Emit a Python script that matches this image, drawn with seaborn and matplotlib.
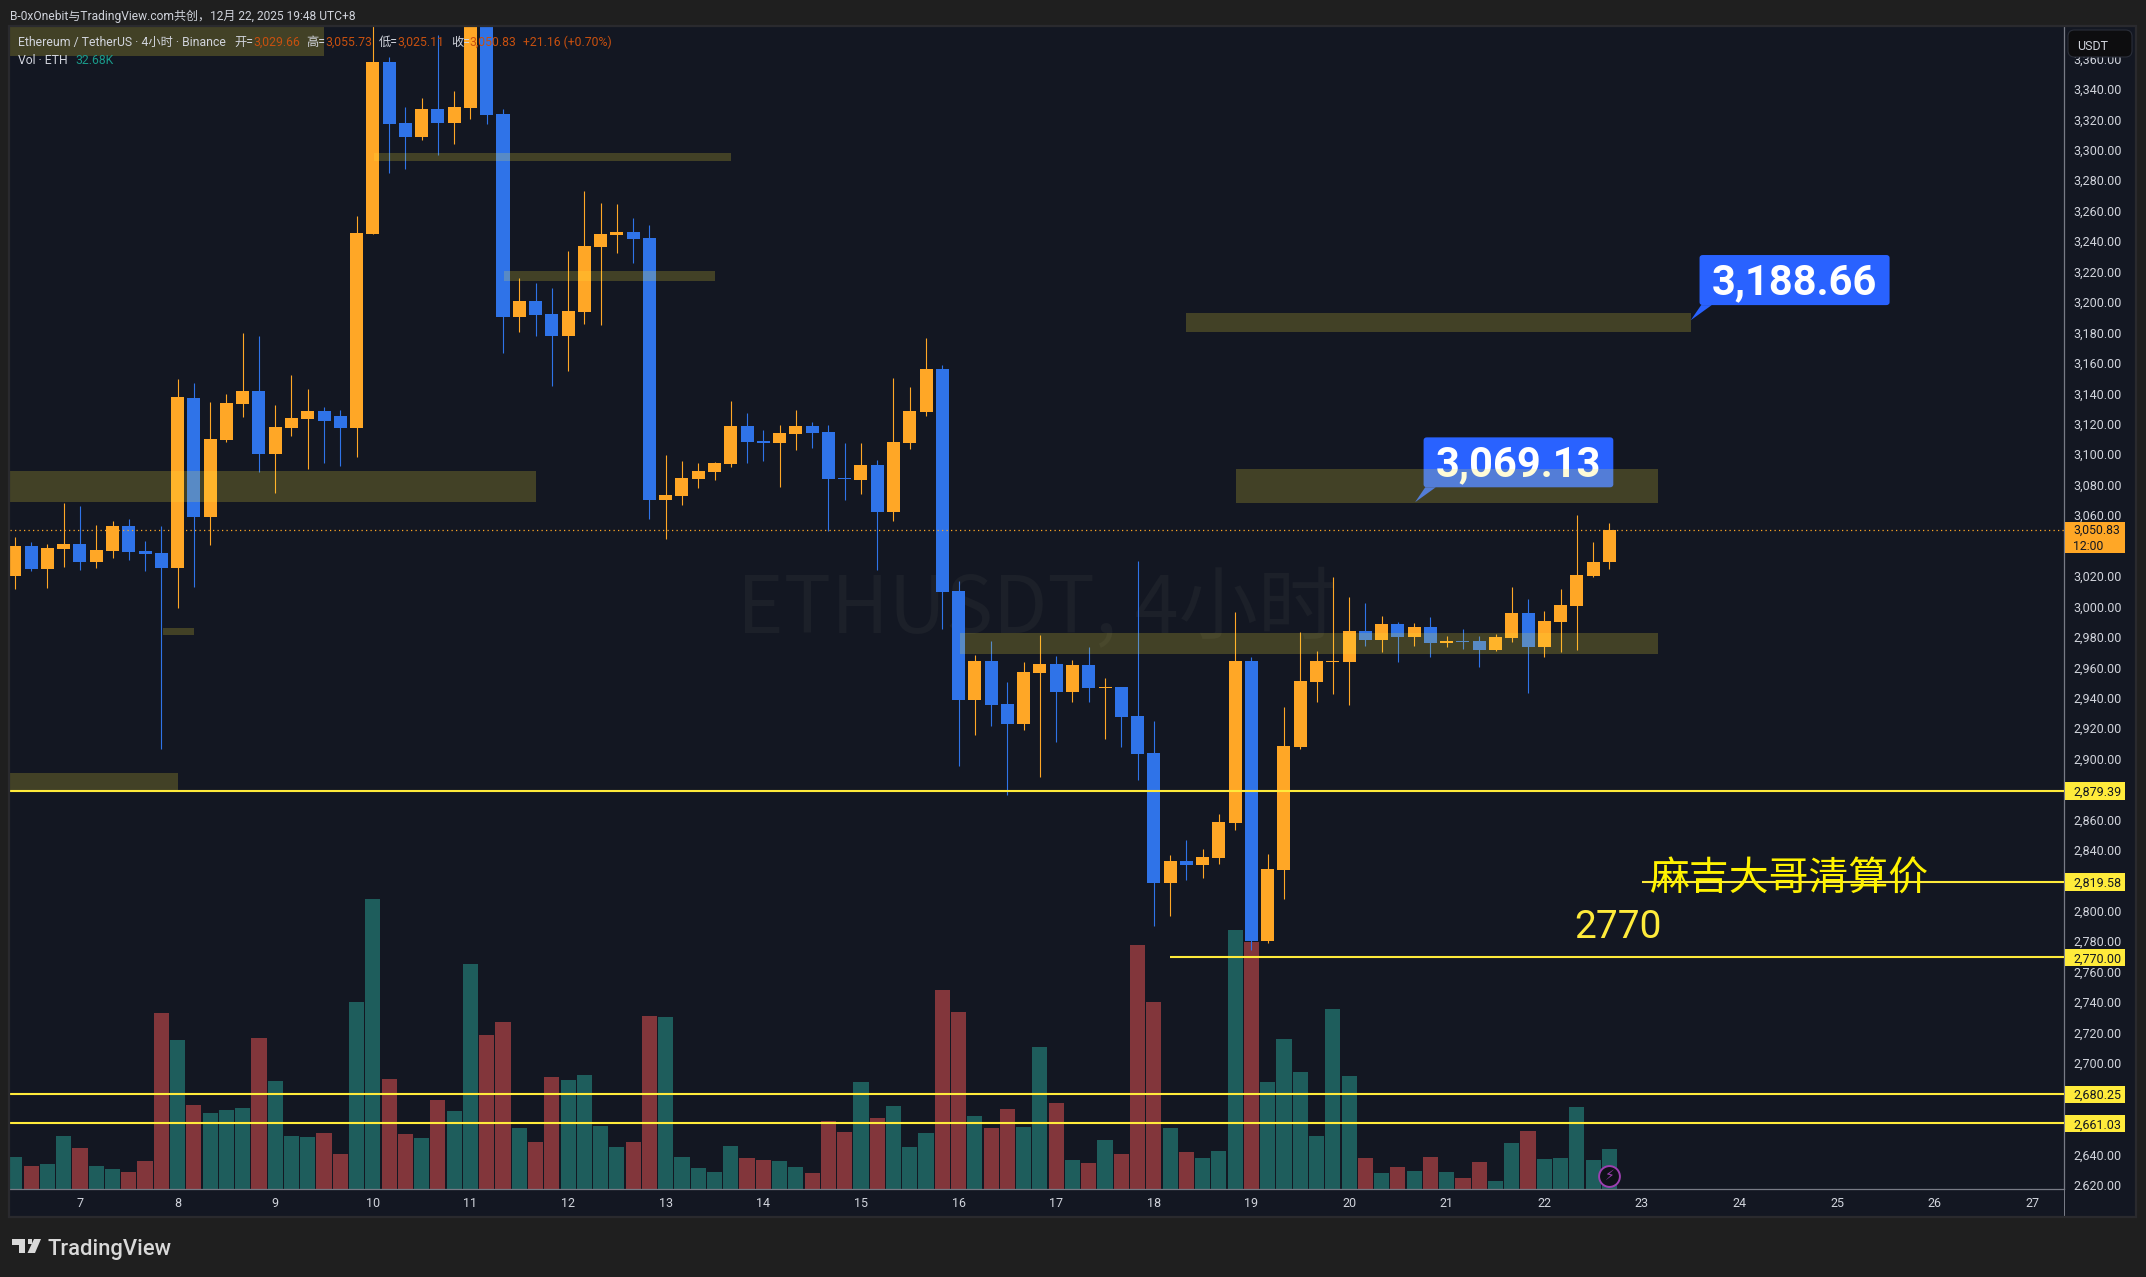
import matplotlib
matplotlib.use('Agg')
import matplotlib.pyplot as plt
from matplotlib.patches import Rectangle, Polygon, FancyBboxPatch
from matplotlib.transforms import blended_transform_factory, ScaledTranslation
import numpy as np
import pandas as pd
import seaborn as sns

# %% Datos (ETHUSDT, velas de 4 horas)
opens = [3020.6, 3040.3, 3025.2, 3038.3, 3041.6, 3029.8, 3037.0, 3053.5, 3037.0, 3035.7,
         3025.9, 3137.5, 3059.4, 3110.0, 3133.6, 3142.1, 3100.8, 3117.8, 3123.7, 3129.0,
         3126.0, 3117.8, 3245.3, 3358.3, 3318.2, 3309.0, 3327.4, 3318.2, 3328.0, 3392.0,
         3324.1, 3190.7, 3201.2, 3192.7, 3178.2, 3194.0, 3236.7, 3244.6, 3246.6, 3242.6,
         3070.5, 3073.2, 3084.3, 3088.9, 3094.1, 3119.1, 3109.2, 3107.9, 3113.8, 3119.1,
         3115.2, 3084.9, 3083.6, 3093.5, 3062.6, 3107.9, 3128.3, 3156.5, 3010.7, 2939.1,
         2964.7, 2936.5, 2923.3, 2956.8, 2962.7, 2944.3, 2962.0, 2947.0, 2947.6, 2928.6,
         2904.3, 2818.9, 2833.3, 2830.7, 2835.3, 2858.3, 2964.7, 2780.8, 2827.4, 2908.2,
         2951.0, 2964.0, 2964.0, 2984.4, 2978.6, 2989.1, 2980.5, 2987.1, 2976.6, 2977.9,
         2977.9, 2972.0, 2979.9, 2996.3, 2974.0, 2990.4, 3000.9, 3020.6, 3029.66]
highs = [3046.2, 3043.0, 3041.6, 3068.6, 3066.6, 3054.1, 3056.7, 3058.1, 3043.6, 3053.5,
         3150.0, 3147.4, 3134.9, 3140.1, 3180.2, 3178.2, 3132.9, 3152.6, 3143.4, 3131.6,
         3129.6, 3257.0, 3400.0, 3361.6, 3328.7, 3334.6, 3376.0, 3339.2, 3400.0, 3400.0,
         3327.4, 3216.4, 3213.1, 3209.8, 3234.1, 3273.5, 3265.6, 3265.0, 3255.8, 3251.2,
         3100.1, 3096.2, 3094.9, 3095.4, 3135.5, 3127.6, 3116.5, 3119.8, 3129.6, 3121.7,
         3119.8, 3107.9, 3107.9, 3096.8, 3150.6, 3144.7, 3176.9, 3159.2, 3017.3, 2968.6,
         2977.8, 2950.9, 2964.0, 2981.8, 2968.0, 2965.4, 2973.9, 2953.5, 2947.6, 3030.4,
         2925.3, 2837.3, 2847.1, 2841.2, 2864.2, 2996.9, 2967.3, 2837.9, 2934.5, 2983.8,
         2971.3, 3019.9, 3006.8, 3002.8, 2994.3, 2990.4, 2989.7, 2993.7, 2981.2, 2985.8,
         2981.2, 2982.5, 3013.4, 3005.5, 2997.6, 3012.1, 3060.7, 3043.0, 3055.73]
lows = [3012.1, 3023.9, 3012.7, 3026.5, 3024.6, 3025.9, 3032.4, 3031.1, 3023.9, 2906.9,
        2999.6, 3013.4, 3041.0, 3108.6, 3125.0, 3088.9, 3075.1, 3112.6, 3090.9, 3094.9,
        3092.9, 3098.8, 3245.0, 3285.3, 3288.0, 3307.0, 3297.2, 3304.4, 3320.8, 3317.5,
        3167.1, 3180.9, 3178.2, 3145.4, 3155.3, 3186.1, 3185.5, 3232.8, 3226.2, 3058.1,
        3044.9, 3067.3, 3078.4, 3083.6, 3092.2, 3094.8, 3096.1, 3079.0, 3103.3, 3104.6,
        3050.1, 3070.5, 3074.4, 3024.5, 3056.7, 3104.0, 3125.7, 2985.7, 2895.7, 2916.1,
        2922.0, 2876.8, 2919.4, 2888.5, 2911.5, 2937.8, 2937.8, 2913.5, 2908.2, 2886.6,
        2790.6, 2797.2, 2820.9, 2822.2, 2831.4, 2853.7, 2774.9, 2779.5, 2808.4, 2906.9,
        2937.8, 2943.0, 2935.8, 2974.6, 2970.7, 2964.1, 2974.6, 2967.4, 2974.0, 2972.7,
        2960.8, 2971.4, 2977.3, 2943.8, 2967.4, 2970.7, 2972.0, 3020.0, 3025.11]
closes = [3040.3, 3025.2, 3039.0, 3041.6, 3029.8, 3037.7, 3053.5, 3036.4, 3035.0, 3025.9,
          3138.2, 3059.4, 3110.6, 3134.2, 3142.1, 3100.8, 3118.5, 3124.4, 3129.0, 3122.4,
          3117.8, 3245.9, 3358.3, 3317.5, 3309.0, 3327.4, 3318.2, 3328.7, 3392.0, 3323.4,
          3190.7, 3201.2, 3192.0, 3178.2, 3194.7, 3237.4, 3245.3, 3246.6, 3242.0, 3070.5,
          3073.8, 3085.0, 3089.6, 3094.8, 3119.1, 3108.6, 3107.9, 3114.5, 3119.1, 3114.5,
          3084.3, 3084.3, 3093.5, 3062.6, 3108.6, 3129.0, 3156.5, 3010.0, 2939.1, 2964.7,
          2935.8, 2923.3, 2957.5, 2962.7, 2944.3, 2962.0, 2947.0, 2947.6, 2927.9, 2903.6,
          2818.9, 2833.3, 2830.7, 2836.0, 2859.0, 2964.7, 2780.8, 2828.1, 2908.9, 2951.6,
          2964.7, 2964.7, 2984.4, 2978.5, 2989.1, 2980.5, 2987.1, 2976.6, 2977.9, 2977.3,
          2972.0, 2980.5, 2996.3, 2974.0, 2991.0, 3001.6, 3021.3, 3029.8, 3050.83]
volumes = [26.4, 19.1, 20.7, 43.6, 33.8, 19.1, 16.6, 14.2, 23.1, 144.0,
           122.0, 68.9, 62.4, 64.8, 66.4, 123.6, 88.5, 43.6, 42.8, 46.0,
           28.9, 153.0, 237.2, 90.1, 45.2, 41.9, 73.0, 64.0, 184.1, 126.1,
           136.7, 50.1, 38.7, 91.8, 89.3, 93.4, 51.7, 34.6, 38.7, 141.6,
           140.8, 26.4, 17.4, 14.2, 35.4, 25.6, 24.0, 23.1, 18.2, 13.3,
           55.8, 46.8, 87.7, 58.3, 68.1, 34.6, 46.0, 162.8, 144.9, 59.9,
           50.1, 65.6, 50.9, 116.3, 70.5, 24.0, 21.5, 40.3, 28.9, 199.6,
           153.0, 50.1, 30.5, 25.6, 31.3, 211.8, 202.0, 87.7, 122.8, 95.8,
           43.6, 147.3, 92.6, 25.6, 13.3, 18.2, 15.0, 26.4, 14.2, 9.3,
           22.3, 6.8, 37.8, 47.7, 24.8, 25.6, 67.3, 23.7, 32.68]

# Zonas marcadas: inicio, fin (en velas) y precios
zona_inicio = [22.07, 30.06, -1, 9.1, -1, 72.0, 75.04, 58.1, -1]
zona_fin = [44.0, 43.0, 32.0, 11.0, 10.0, 103.0, 101.0, 101.0, 19.0]
zona_baja = [3293.2, 3214.4, 3069.2, 2981.9, 2879.4, 3180.9, 3068.6, 2969.3, 3362.2]
zona_alta = [3298.5, 3221.0, 3089.6, 2986.4, 2891.2, 3193.4, 3090.9, 2983.1, 3400.0]

# Lineas horizontales con su etiqueta de precio
linea_precio = [2879.39, 2819.58, 2770.00, 2680.25, 2661.03]
linea_inicio = [-1, 100.0, 71.0, -1, -1]

dias = list(range(7, 28))
primer_dia = 4
velas_por_dia = 6
precios_eje = list(range(2620, 3380, 20))
precios_tapados = [2660, 2680, 2820, 2880, 3040]  # quedan debajo de las etiquetas de precio
ultimo_precio = 3050.83

FONDO = '#131722'
MARCO = '#1f1f1f'
NARANJA = '#ffa726'
AZUL = '#2f73e8'
AMARILLO = '#ffeb3b'
TEXTO = '#d1d4dc'
VALOR = '#c8500f'

ANCHO, ALTO = 2146, 1277


def fx(x):
    return x / ANCHO


def fy(y):
    return 1 - y / ALTO


# %% Figura
sns.set_theme(style='dark', rc={'axes.facecolor': FONDO, 'figure.facecolor': MARCO})
plt.rcParams['font.family'] = ['Roboto', 'Noto Sans CJK SC', 'DejaVu Sans']

fig = plt.figure(figsize=(ANCHO / 100, ALTO / 100), dpi=100)
rect = [fx(10), fy(1189), fx(2064) - fx(10), fy(27) - fy(1189)]

# paneles de los ejes
fig.add_artist(Rectangle((fx(10), fy(1216)), fx(2135) - fx(10), fy(27) - fy(1216), fc=FONDO, ec='none', zorder=-1))

# %% Volumen (debajo de las velas)
vol_ax = fig.add_axes(rect, zorder=0)
df = pd.DataFrame({'vela': np.arange(len(volumes)), 'vol': volumes,
                   'dir': ['up' if c >= o else 'down' for o, c in zip(opens, closes)]})
sns.barplot(data=df, x='vela', y='vol', hue='dir', palette={'up': '#1e5d5c', 'down': '#82363b'},
            native_scale=True, dodge=False, width=0.93, saturation=1, legend=False, linewidth=0, ax=vol_ax)
vol_ax.set_xlim(-0.30, 125.94)
vol_ax.set_ylim(0, 949)
vol_ax.set(xticks=[], yticks=[], xlabel='', ylabel='')
sns.despine(ax=vol_ax, left=True, bottom=True)

# %% Velas
ax = fig.add_axes(rect, zorder=1)
ax.patch.set_visible(False)
x = df['vela'].values
arriba = df['dir'] == 'up'
colores = [NARANJA if a else AZUL for a in arriba]
ax.vlines(x, lows, highs, colors=colores, linewidth=0.8, zorder=2)
cuerpo_bajo = np.minimum(opens, closes)
cuerpo_alto = np.maximum(opens, closes)
ax.bar(x, cuerpo_alto - cuerpo_bajo, bottom=cuerpo_bajo, width=0.8, color=colores, linewidth=0, zorder=2.1)

ax.set_xlim(-0.30, 125.94)
ax.set_ylim(2617.9, 3381.3)

# marca de agua
ax.text(62.8, 2998, 'ETHUSDT, 4小时', fontsize=57, color='#1c2029', ha='center', va='center',
        family=['Noto Sans CJK SC', 'DejaVu Sans'], zorder=1)

# etiquetas azules (debajo de las zonas)
AZUL_NOTA = '#2962ff'
notas_texto = ['3,188.66', '3,069.13']
notas_x = [(103.54, 115.22), (86.58, 98.24)]
notas_y = [(3198.6, 3231.5), (3078.9, 3111.7)]
notas_punta = [(103.0, 3188.66), (86.06, 3069.13)]
for txt, (x0, x1), (y0, y1), punta in zip(notas_texto, notas_x, notas_y, notas_punta):
    ax.add_patch(FancyBboxPatch((x0, y0), x1 - x0, y1 - y0, boxstyle='round,pad=0,rounding_size=0.2',
                                mutation_aspect=10, fc=AZUL_NOTA, ec='none', zorder=3))
    ax.add_patch(Polygon([(x0 + 0.1, y0), (x0 + 0.75, y0), punta], closed=True, fc=AZUL_NOTA, ec='none', zorder=3))
    ax.text((x0 + x1) / 2, (y0 + y1) / 2 + 1.5, txt, color='white', fontsize=30, fontweight='bold',
            ha='center', va='center_baseline', zorder=3.1)

# zonas
for ini, fin, baja, alta in zip(zona_inicio, zona_fin, zona_baja, zona_alta):
    ax.add_patch(Rectangle((ini, baja), fin - ini, alta - baja, fc=AMARILLO, alpha=0.2, ec='none', zorder=4))

# lineas amarillas y precio actual
for precio, ini in zip(linea_precio, linea_inicio):
    ax.hlines(precio, ini, 126, color=AMARILLO, linewidth=1.5, zorder=4.5)
ax.axhline(ultimo_precio, color=NARANJA, linewidth=0.9, linestyle=(0, (1, 2.6)), zorder=4.2)

ax.text(109.0, 2820.9, '麻吉大哥清算价', color='#fff200', fontsize=28.7, ha='center', va='center', fontweight='medium',
        family=['Noto Sans CJK SC', 'DejaVu Sans'], zorder=5)
ax.text(98.5, 2789.6, '2770', color=AMARILLO, fontsize=28, ha='center', va='center', zorder=5)

# icono del rayo
ax.plot([98], [2626.5], marker='o', markersize=15, mfc='#0f1118', mec='#9c3fb0', mew=1.4, zorder=5, clip_on=False)
ax.text(98, 2626.5, '⚡', color='#9c3fb0', fontsize=10, ha='center', va='center', family='DejaVu Sans', zorder=5.1)

# %% Ejes
ax.yaxis.tick_right()
ax.set_yticks(precios_eje)
ax.set_yticklabels(['' if p in precios_tapados else f'{p:,.2f}' for p in precios_eje])
ax.set_xticks([primer_dia + velas_por_dia * i for i in range(len(dias))])
ax.set_xticklabels([str(d) for d in dias])
ax.tick_params(axis='y', length=0, pad=6.5, labelsize=9, labelcolor=TEXTO)
ax.tick_params(axis='x', length=0, pad=6, labelsize=9, labelcolor=TEXTO)
ax.set_xlabel('')
ax.set_ylabel('')
sns.despine(ax=ax, left=True, top=True, right=False, bottom=False)
for lado in ['right', 'bottom']:
    ax.spines[lado].set_color('#787b86')
    ax.spines[lado].set_linewidth(0.9)

# las etiquetas de precio van un pixel mas arriba
subir = ScaledTranslation(0, 1 / 100, fig.dpi_scale_trans)
for etiqueta in ax.get_yticklabels():
    etiqueta.set_transform(etiqueta.get_transform() + subir)

# etiquetas de precio en el eje
mezcla = blended_transform_factory(ax.transAxes, ax.transData)
caja_x = 1.0003
caja_ancho = 60 / 2054
texto_x = 1.00438
for precio in linea_precio:
    ax.add_patch(Rectangle((caja_x, precio - 5.6), caja_ancho, 11.2, transform=mezcla, fc=AMARILLO,
                           ec='none', clip_on=False, zorder=6))
    ax.text(texto_x, precio, f'{precio:,.2f}', transform=mezcla, color='#131722', fontsize=9,
            va='center_baseline', ha='left', zorder=7, clip_on=False)
ax.add_patch(Rectangle((caja_x, 3035.7), caja_ancho, 20.4, transform=mezcla, fc=NARANJA,
                       ec='none', clip_on=False, zorder=6))
ax.text(texto_x, 3051.6, f'{ultimo_precio:,.2f}', transform=mezcla, color='#131722', fontsize=8.8,
        va='center_baseline', ha='left', zorder=7, clip_on=False)
ax.text(texto_x, 3041.0, '12:00', transform=mezcla, color='#131722', fontsize=8.8,
        va='center_baseline', ha='left', zorder=7, clip_on=False)

# tapa la parte baja del eje de precios
fig.add_artist(Rectangle((fx(2065), fy(1216)), fx(2135) - fx(2065), fy(1190) - fy(1216), fc=FONDO, ec='none', zorder=5))
fig.add_artist(Rectangle((fx(2064), fy(1216)), fx(1), fy(1189) - fy(1216), fc='#787b86', ec='none', zorder=5))

# boton USDT
fig.add_artist(FancyBboxPatch((fx(2068), fy(57)), fx(64), fy(30) - fy(57), boxstyle='round,pad=0,rounding_size=0.003',
                              mutation_aspect=ANCHO / ALTO, fc='#0d0d0f', ec='#2a2e39', lw=0.8, zorder=6))
fig.text(fx(2077), fy(44.5), 'USDT', color=TEXTO, fontsize=9, va='center_baseline', zorder=7)

# marco del grafico
fig.add_artist(Rectangle((fx(9), fy(1217)), fx(2127), fy(26) - fy(1217), fc='none', ec='#2a2a2e', lw=1.6, zorder=8))

# %% Textos de cabecera
fig.text(fx(10), fy(14.7), 'B-0xOnebit与TradingView.com共创，12月 22, 2025 19:48 UTC+8', color=TEXTO,
         fontsize=8.65, va='center_baseline')

leyenda = [(18, 'Ethereum / TetherUS · 4小时 · Binance', TEXTO), (234, '开=', TEXTO), (253, '3,029.66', VALOR),
           (306.5, '高=', TEXTO), (325, '3,055.73', VALOR), (379, '低=', TEXTO), (397, '3,025.11', VALOR),
           (451, '收=', TEXTO), (469, '3,050.83', VALOR), (523, '+21.16 (+0.70%)', VALOR)]
for px, txt, color in leyenda:
    fig.text(fx(px), fy(41), txt, color=color, fontsize=8.8, va='center_baseline', zorder=9)
fig.text(fx(18), fy(59), 'Vol · ETH', color=TEXTO, fontsize=8.8, va='center_baseline', zorder=9)
fig.text(fx(75), fy(59), '32.68K', color='#1a9a8a', fontsize=8.8, va='center_baseline', zorder=9)

# %% Logo de TradingView
LOGO = '#d9d9d9'
fig.add_artist(Polygon([(fx(12), fy(1239)), (fx(25), fy(1239)), (fx(25), fy(1253)), (fx(19), fy(1253)),
                        (fx(19), fy(1244.5)), (fx(12), fy(1244.5))], closed=True, fc=LOGO, ec='none', zorder=9))
fig.add_artist(Polygon([(fx(34), fy(1239)), (fx(41), fy(1239)), (fx(35), fy(1253)), (fx(27.5), fy(1253))],
                       closed=True, fc=LOGO, ec='none', zorder=9))
fig.add_artist(Polygon([(fx(27.5), fy(1239)), (fx(32), fy(1239)), (fx(32), fy(1244)), (fx(27.5), fy(1244))],
                       closed=True, fc=LOGO, ec='none', zorder=9))
fig.text(fx(48), fy(1246.5), 'TradingView', color=LOGO, fontsize=15.8, fontweight='medium', va='center_baseline', zorder=9)

fig.savefig('out.png', dpi=100, facecolor=MARCO)
